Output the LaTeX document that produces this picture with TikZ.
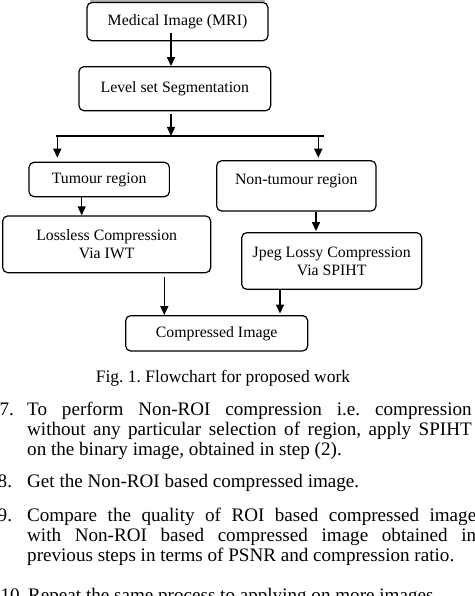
\documentclass[tikz,border=0pt]{standalone}
\usepackage{fontspec}
\setmainfont{Liberation Serif}
\usetikzlibrary{arrows.meta}
\newcommand{\jline}[2]{\makebox[#1][s]{#2}}
\frenchspacing

\begin{document}
\begin{tikzpicture}[x=1pt,y=-1pt,
	box/.style={draw,line width=1.2pt,rounded corners=5pt,inner sep=0pt,align=center,font=\fontsize{15.8}{18.2}\selectfont},
	arr/.style={line width=1.4pt,-{Triangle[length=9pt,width=8pt]}},
	body/.style={inner sep=0pt,anchor=base west,font=\fontsize{19.1}{20}\selectfont}]
	\useasboundingbox (0,0) rectangle (474,596);
	\clip (0,0) rectangle (474,596);
	\fill[gray!60] (90,0) rectangle (265,2);
	% flowchart
	\node[box,minimum width=181pt,minimum height=38.2pt] (mri) at (177.5,21.6) {Medical Image (MRI)};
	\node[box,minimum width=191.7pt,minimum height=44pt] (seg) at (174.8,88.7) {Level set Segmentation};
	\node[box,minimum width=140.3pt,minimum height=34.4pt] (tum) at (99.2,179.5) {Tumour region};
	\node[box,minimum width=159.3pt,minimum height=50.3pt,text height=11pt,text depth=14pt] (non) at (296.3,185.9) {Non-tumour region};
	\node[box,minimum width=208pt,minimum height=56.7pt] (loss) at (106.7,244.3) {Lossless Compression\\Via IWT};
	\node[box,minimum width=180pt,minimum height=56.6pt] (jpeg) at (331.7,261) {Jpeg Lossy Compression\\Via SPIHT};
	\node[box,minimum width=182pt,minimum height=35.3pt] (comp) at (216.7,333.3) {Compressed Image};
	\coordinate (split) at (171,136);
	\coordinate (bl) at (55.7,136);
	\coordinate (br) at (324.3,136);
	\draw[arr] ([xshift=-6.5,yshift=8.7]mri.south) -- ([xshift=-3.8]seg.north);
	\draw[arr] ([xshift=-3.8,yshift=-2.3]seg.south) -- (split);
	\draw[line width=1.4pt] (bl) -- (br);
	\draw[arr] ([xshift=1.6]bl) -- ([xshift=-41.9,yshift=4]tum.north);
	\draw[arr] ([xshift=-6]br) -- ([xshift=22,yshift=2.4]non.north);
	\draw[arr] ([xshift=-17.5]tum.south) -- ([xshift=-25]loss.north);
	\draw[arr] ([xshift=19.7]non.south) -- ([xshift=-15.7,yshift=1]jpeg.north);
	\draw[arr] ([xshift=57.6,yshift=-3.3]loss.south) -- ([xshift=-52.4]comp.north);
	\draw[arr] ([xshift=-51.7]jpeg.south) -- ([xshift=63.3,yshift=1.5]comp.north);
	\node[inner sep=0pt,anchor=base,font=\fontsize{17.5}{20}\selectfont] (cap) at (223,382.7) {Fig. 1. Flowchart for proposed work};
	% text below the figure
	\node[body] (n7) at (-0.5,415) {7.};
	\node[body] (t7a) at (27,415) {\jline{444.5pt}{To perform Non-ROI compression i.e. compression}};
	\node[body] (t7b) at (27,435) {\jline{444.5pt}{without any particular selection of region, apply SPIHT}};
	\node[body] (t7c) at (27,455) {on the binary image, obtained in step (2).};
	\node[body] (n8) at (-2.5,487.5) {8.};
	\node[body] (t8) at (27,487.5) {Get the Non-ROI based compressed image.};
	\node[body] (n9) at (-2.5,521) {9.};
	\node[body] (t9a) at (27,521) {\jline{449pt}{Compare the quality of ROI based compressed image}};
	\node[body] (t9b) at (27,541) {\jline{449pt}{with Non-ROI based compressed image obtained in}};
	\node[body] (t9c) at (27,561.5) {previous steps in terms of PSNR and compression ratio.};
	\node[body] (n10) at (0.5,601) {10.};
	\node[body] (t10) at (28,601) {Repeat the same process to applying on more images};
\end{tikzpicture}
\end{document}
